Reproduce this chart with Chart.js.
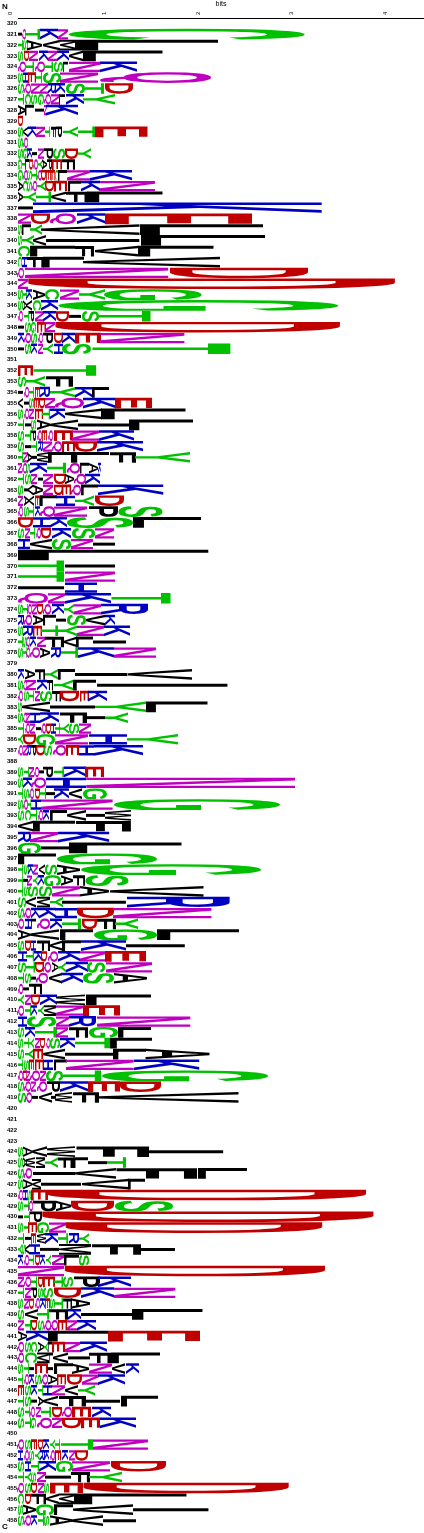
<!DOCTYPE html>
<html>
<head>
<meta charset="utf-8">
<script src="https://cdn.jsdelivr.net/npm/chart.js@4"></script>
<style>
  html, body { margin: 0; padding: 0; background: #fff; }
  #wrap { position: relative; width: 424px; height: 1533px; }
  .term { position: absolute; left: 2px; font: bold 8px "Liberation Sans", sans-serif; }
</style>
</head>
<body>
<div id="wrap">
  <canvas id="logo"></canvas>
  <span class="term" style="top:2px">N</span>
  <span class="term" style="top:1522px">C</span>
</div>
<script>
// positions 320..458, one stack per position, letters listed bottom (left) to top (right), heights in bits
const firstPosition = 320;
const bitTicks = [0, 1, 2, 3, 4];
const stacks = [
  '',
  'I.04 Q.04 T.16 K.19 N.11 C2.53',
  'T.05 S.05 A.17 V.18 M.16 L1.53',
  'S.06 D.06 N.1 K.1 N.1 K.12 V.15 L.85',
  'Q.08 T.1 Q.1 T.1 S.1 L.06 N.34 K.4',
  'S.05 H.06 E.08 T.07 S.19 N.42 Q1.19',
  'S.07 Q.07 N.1 N.08 R.08 K.11 S.21 T.21 D.3',
  'T.07 C.07 S.07 G.07 Q.07 N.09 L.07 K.19 Y.34',
  'A.08 L.1 I.1 N.02 K.35',
  'D.05',
  'S.05 V.06 K.08 N.1 T.06 F.06 P.07 Y.16 T.18 E.56',
  'S.05 Q.05',
  'S.05 G.05 K.05 I.06 N.07 P.09 S.13 D.14 Y.14',
  'G.04 T.04 L.04 D.04 Q.05 Y.05 A.05 P.05 E.11 F.14',
  'G.05 Q.05 S.05 T.05 Q.05 D.05 E.05 E.04 C.04 L.09 N.25 K.46',
  'A.05 C.05 S.05 Q.05 Y.09 D.1 E.14 L.14 K.21 N.59',
  'A.05 Y.14 T.16 V.16 F.23 L.8',
  'I.16 K3.14',
  'N.14 D.2 Q.29 K.3 E1.57',
  'S.04 L.09 Y.12 V1.05 L1.32',
  'S.04 Y.12 V.14 I1.02 L1.33',
  'C.13 L.48 F.21 V.46 L.8',
  'C.04 H.05 F.18 L.43 V1.46',
  'Q.07 N1.56 D1.48',
  'N.11 D3.93',
  'S.05 T.04 K.07 A.13 C.16 N.2 Y.27 G1.04',
  'S.05 A.04 V.07 C.09 K.18 G3.0',
  'Q.06 T.06 P.06 N.09 K.14 D.14 I.13 S.18 T.57',
  'I.07 S.07 G.06 E.09 N.11 D3.05',
  'K.07 Q.07 S.07 Q.06 P.11 D.09 K.14 E.27 N.91',
  'I.07 S.07 K.07 N.06 Y.11 H.09 S.32 T1.5',
  '',
  'E.16 T.68',
  'S.09 Y.2 F.29',
  'I.06 Q.06 T.06 E.05 R.11 Y.27 K.18 L.18',
  'V.06 I.06 S.05 E.05 D.07 N.11 Q.3 K.34 E.39',
  'S.06 Q.06 N.06 E.08 T.08 K.16 V.39 L.91',
  'T.07 I.07 S.06 A.14 V.3 I.55 L.68',
  'S.07 T.07 P.06 Q.06 E.06 Q.06 E.2 N.29 K.38',
  'S.07 I.07 T.07 R.06 N.09 Q.11 E.14 D.23 K.5',
  'T.05 N.05 A.05 I.05 W.12 L.25 L.41 F.27 Y.59',
  'N.04 Q.05 S.04 K.18 T.21 Q.14 L.1 A.1 K.02',
  'T.07 S.07 N.07 I.06 N.11 D.12 A.1 Q.12 K.16',
  'S.06 I.05 V.05 A.11 N.11 D.09 E.09 Q.11 L.18 K.71',
  'N.06 A.06 V.06 E.05 L.18 H.2 Y.21 D.32',
  'Q.06 S.06 T.06 K.05 Q.16 N.36 P.32 S.48',
  'D.16 H.18 K.18 S.71 L.73',
  'S.07 N.06 T.06 Q.06 D.11 K.21 S.25 N.21',
  'H.13 V.23 S.21 N.23 I.23',
  'L2.04',
  'T.5 I.54',
  'T.5 N.54',
  'I.5 H.35',
  'Q.32 N.18 K.5 T.64',
  'S.05 T.05 Q.05 N.05 D.07 Q.09 K.13 Y.11 N.29 R.5',
  'R.07 Q.09 A.11 L.14 I.11 S.21 V.2 K.11',
  'S.05 R.11 E.09 T.18 Y.2 N.29 K.27',
  'T.05 S.04 Q.04 K.07 N.09 F.2 V.13 L.18 I.36',
  'S.05 T.04 Q.04 Q.11 A.11 R.11 T.18 K.39 N.45',
  '',
  'K.07 A.11 F.11 Y.14 L.18 I.57 V.68',
  'S.05 Q.04 N.11 K.11 F.07 Y.21 L.25 I1.41',
  'Q.06 S.06 T.06 N.05 S.13 F.09 D.21 E.09 K.2',
  'S.04 V.3 I.48 Y.55 L.66',
  'S.05 Q.04 N.04 H.11 K.2 F.29 I.2 Y.25',
  'T.07 Q.06 N.06 I.06 Q.05 D.05 H.05 T.05 Y.09 S.11 N.13',
  'Y.05 D.14 G.21 N.36 H.41 Y.55',
  'Q.05 N.05 R.04 P.05 D.09 S.09 Q.14 E.14 H.16 K.52',
  '',
  'S.06 T.06 N.05 Q.05 I.05 P.11 T.11 K.23 E.21',
  'S.05 K.09 Q.16 H.43 N2.27',
  'T.06 S.06 Q.06 D.05 T.07 I.09 K.16 V.14 G.27',
  'S.05 Q.05 T.04 H.11 N.77 G1.77',
  'S.07 C.07 T.07 Q.06 K.07 L.18 V.21 I.2 W.27',
  'V.16 L.45 F.59',
  'R.13 N.3 K.55',
  'G.25 I.3 L1.21',
  'L.41 G1.07',
  'T.06 S.05 K.05 N.06 V.07 S.13 A.25 G1.93',
  'T.05 I.05 N.06 Y.05 K.07 G.18 A.13 F.13 S.46',
  'T.06 S.05 S.11 S.14 N.3 A.32 V1.0',
  'S.09 V.11 M.14 Y.13 I.7 R1.1',
  'S.07 Q.07 K.08 K.18 H.23 D.39 N1.07',
  'Q.07 H.07 L.06 Q.14 K.13 T.21 D.16 F.2 Y.25',
  'A.13 V.32 L.36 G.68 L.88',
  'S.07 D.07 H.06 F.14 V.13 L.2 K.48 I.64',
  'H.09 T.08 K.08 D.07 Q.11 K.23 N.27 E.43',
  'S.09 T.09 D.09 Q.09 A.07 Y.08 K.23 S.2 N.5',
  'T.07 S.07 I.06 Q.13 V.13 K.23 S.34 A.36',
  'Q.05 I.07 F.14',
  'Y.07 N.07 D.09 K.18 W.32 L.7',
  'Q.07 T.07 K.07 Y.07 M.13 N.29 E.39',
  'H.09 S.32 N.14 R.29 N1.02',
  'S.07 K.11 T.23 N.13 F.21 G.32 L.36',
  'S.06 T.06 Y.06 N.06 D.06 Q.04 S.11 K.16 T.37 L.45',
  'S.07 Y.09 E.11 V.23 I.52 L.35 A.7',
  'T.06 S.06 E.06 E.09 H.11 L.13 N.73 K.71',
  'Q.05 D.04 N.04 Q.1 N.07 S.18 T.41 G1.77',
  'S.07 Q.07 N.06 Q.11 P.14 K.3 E.34 D.43',
  'S.08 Q.07 I.07 V.13 I.05 W.18 F.27 V1.5',
  '', '', '', '',
  'S.05 A.1 V.16 W.3 F.79 I.8',
  'S.05 A.04 W.1 M.1 Y.14 F.16 L.16 I.2 T.2',
  'S.07 Q.09 I.45 V.43 F.88 L.52',
  'S.05 A.1 M.1 I.43 V.5 L.18',
  'Q.05 H.05 S.04 E.18 D3.41',
  'S.06 T.05 Q.05 P.25 A.16 D.47 S.62',
  'I.06 T.07 P.13 D3.55',
  'S.06 T.05 E.09 G.13 N.18 D2.75',
  'T.07 I.07 E.06 W.09 K.14 T.11 R.11 Y.11',
  'Y.04 S.04 V.05 H.11 I.2 M.34 F.52 I.38',
  'K.06 Q.06 T.06 D.06 K.06 Y.06 N.13 L.16 S.11',
  'N.5 D2.79',
  'N.07 Q.07 T.07 D.06 E.12 T.09 S.11 P.27 K.36',
  'T.07 N.07 P.07 S.06 S.11 D.29 K.36 N.66',
  'S.06 N.06 D.06 Q.06 K.05 E.05 S.05 T.09 F.09 A.21',
  'S.07 V.13 T.13 F.2 K.14 I.55 L.75',
  'N.07 T.07 D.07 S.07 Q.07 Q.08 E.09 N.11 K.21',
  'A.09 K.23 L.64 E.98',
  'Q.07 S.07 C.07 A.07 Y.04 L.04 E.14 N.16 K.29',
  'Q.07 C.13 M.13 L.04 V.16 I.23 F.23 L.52',
  'S.06 T.06 I.06 E.13 I.07 L.2 A.18 N.25 V.14 K.14',
  'T.06 Q.06 K.06 S.07 Q.07 A.1 E.1 D.16 N.18 K.29',
  'E.07 S.07 K.07 T.06 H.09 N.14 V.14 Y.18',
  'T.07 S.07 I.07 A.06 V.16 F.29 I.38 L.39',
  'S.07 T.06 Q.06 N.06 T.11 D.11 Q.11 E.21 K.21',
  'S.07 T.07 G.06 Q.16 N.11 D.2 E.21 K.39',
  '',
  'Q.07 S.07 E.07 D.06 K.07 Y.06 T.06 T.34 N.59',
  'H.06 Q.06 S.06 Y.05 R.05 K.06 Q.06 E.07 K.07 N.07 D.13',
  'S.07 H.07 T.08 K.18 G.18 N.41 D.59',
  'T.07 Y.07 S.06 N.09 I.09 I.18 F.2 Y.36',
  'Q.07 S.07 D.07 N.07 S.06 E.36 D2.2',
  'C.07 D.07 F.16 V.14 M.16 L1.21',
  'S.05 A.14 G.2 L.2 V.64 I.82',
  'S.07 Q.07 K.07 T.07 S.06 A.23 V.34 I.36'
];

const positionLabels = stacks.map((_, i) => String(firstPosition + i));
const parsed = stacks.map((row) => row.trim() ? row.trim().split(/\s+/).map((t) => [t[0], parseFloat(t.slice(1))]) : []);
const levels = Math.max(...parsed.map((r) => r.length));

const residueColors = {
  G: '#00c000', S: '#00c000', T: '#00c000', Y: '#00c000', C: '#00c000',
  N: '#c000c0', Q: '#c000c0',
  K: '#0000c0', R: '#0000c0', H: '#0000c0',
  D: '#c00000', E: '#c00000'
};

const datasets = [];
for (let k = 0; k < levels; k++) {
  datasets.push({
    data: parsed.map((r) => (r[k] ? r[k][1] : 0)),
    letters: parsed.map((r) => (r[k] ? r[k][0] : '')),
    backgroundColor: 'rgba(0,0,0,0)',
    borderWidth: 0
  });
}

// letters are stretched to the bar length; narrow glyphs keep their proportion inside a fixed cell
const letterPlugin = {
  id: 'letters',
  afterDatasetsDraw(chart) {
    const ctx = chart.ctx;
    ctx.save();
    ctx.font = 'bold 100px "Liberation Sans", Arial, sans-serif';
    const cell = ctx.measureText('W');
    const cellW = cell.actualBoundingBoxLeft + cell.actualBoundingBoxRight;
    chart.data.datasets.forEach((ds, di) => {
      chart.getDatasetMeta(di).data.forEach((bar, i) => {
        const letter = ds.letters[i];
        const len = bar.x - bar.base;
        if (!letter || len <= 0.2) return;
        const m = ctx.measureText(letter);
        const gw = m.actualBoundingBoxLeft + m.actualBoundingBoxRight;
        const gh = m.actualBoundingBoxAscent + m.actualBoundingBoxDescent;
        const w = Math.max(gw, m.width * 0.85, cellW * 0.55);
        ctx.save();
        ctx.translate(bar.base, bar.y);
        ctx.rotate(Math.PI / 2);
        ctx.scale(bar.height / w, len / gh);
        ctx.fillStyle = residueColors[letter] || '#000';
        ctx.fillText(letter, (m.actualBoundingBoxLeft - m.actualBoundingBoxRight) / 2, -m.actualBoundingBoxDescent);
        ctx.restore();
      });
    });
    ctx.restore();
  }
};

new Chart(document.getElementById('logo'), {
  type: 'bar',
  data: { labels: positionLabels, datasets },
  plugins: [letterPlugin],
  options: {
    indexAxis: 'y',
    responsive: true,
    maintainAspectRatio: false,
    animation: false,
    layout: { padding: { top: 0, bottom: 7, left: 0, right: 0 } },
    datasets: { bar: { barPercentage: 1, categoryPercentage: 1 } },
    plugins: { legend: { display: false }, tooltip: { enabled: false } },
    scales: {
      x: {
        position: 'top',
        stacked: true,
        min: 0,
        max: 4.34,
        afterBuildTicks: (s) => { s.ticks = bitTicks.map((v) => ({ value: v })); },
        afterFit: (s) => { s.height = 18; },
        grid: { display: false, drawTicks: true, tickLength: 3 },
        border: { color: '#000' },
        ticks: { font: { size: 6 }, color: '#000', padding: 0, minRotation: 90, maxRotation: 90 },
        title: { display: true, text: 'bits', font: { size: 7 }, color: '#000', padding: 0 }
      },
      y: {
        stacked: true,
        afterFit: (s) => { s.width = 18; },
        grid: { display: false, drawTicks: false },
        border: { display: false },
        ticks: { font: { size: 6, weight: 'bold' }, color: '#000', padding: 1, autoSkip: false }
      }
    }
  }
});
</script>
</body>
</html>
